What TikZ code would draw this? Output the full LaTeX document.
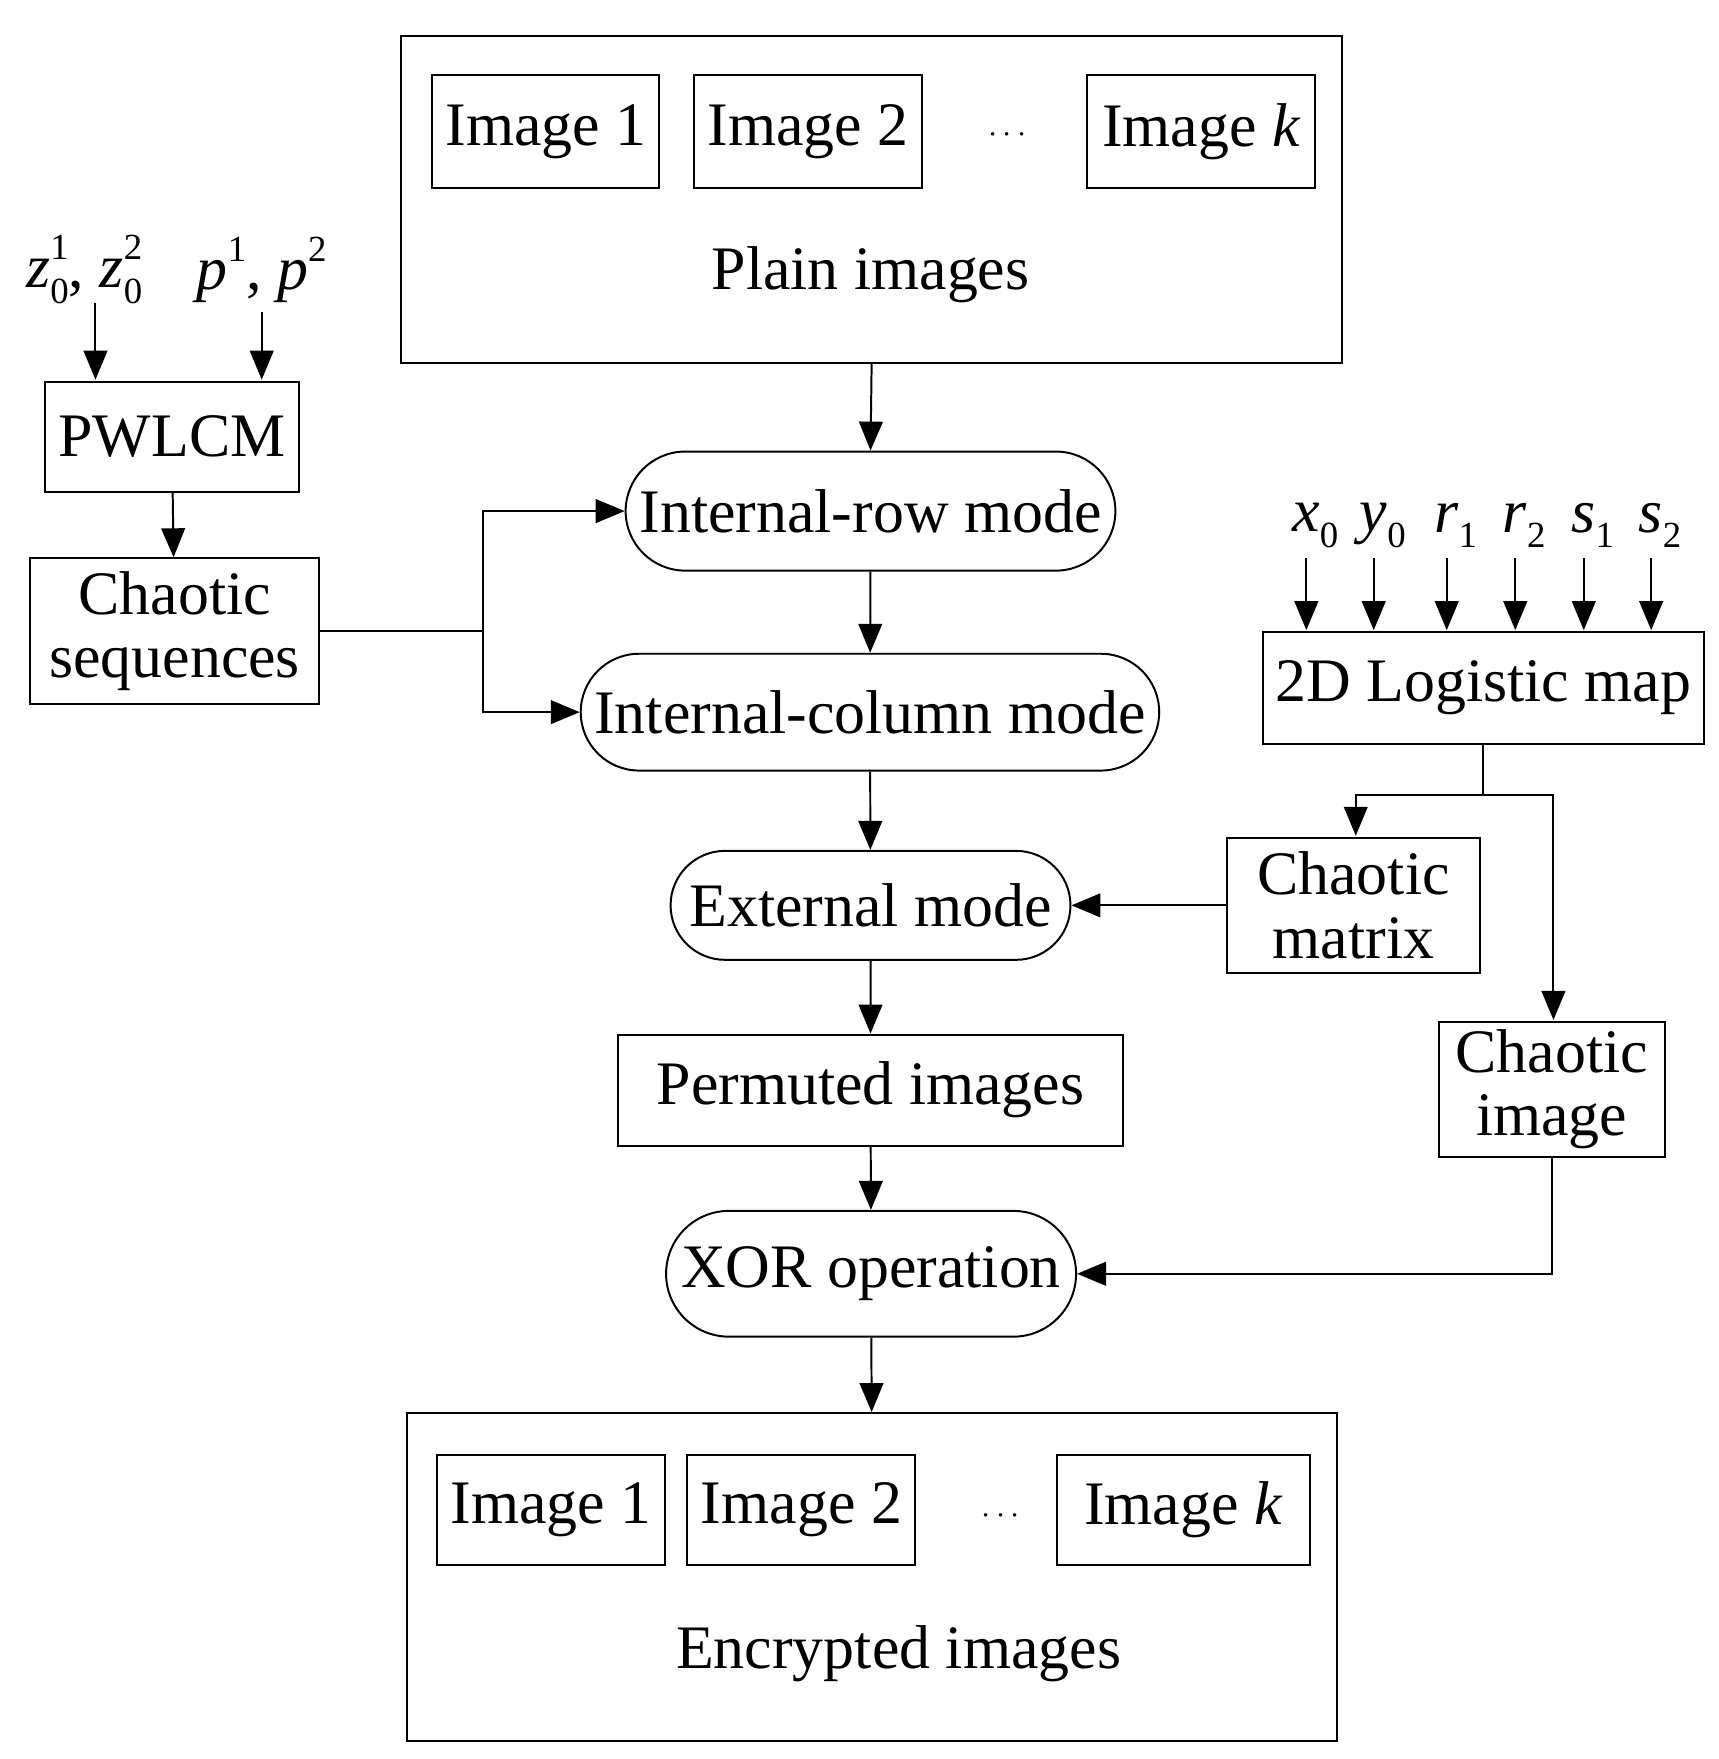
\documentclass[tikz,border=0pt]{standalone}
\usepackage{fontspec}
\setmainfont{Liberation Serif}
\usetikzlibrary{arrows.meta,shapes.misc}
\newcommand{\vsub}[3]{\textit{#1}\makebox[0pt][l]{\raisebox{0.45em}{\fontsize{28}{28}\selectfont #2}}\raisebox{-0.25em}{\fontsize{28}{28}\selectfont #3}}
\newcommand{\vs}[2]{\textit{#1}\raisebox{-0.25em}{\fontsize{28}{28}\selectfont #2}}
\newcommand{\vp}[2]{\textit{#1}\raisebox{0.45em}{\fontsize{28}{28}\selectfont #2}}
\begin{document}
\begin{tikzpicture}[x=0.3mm,y=-0.3mm,
  every node/.style={font=\fontsize{47}{50}\selectfont, inner sep=0pt},
  box/.style={draw, line width=1.5pt},
  rbox/.style={draw, line width=1.5pt, rounded rectangle},
  ln/.style={line width=1.5pt},
  arr/.style={ln, -{Triangle[length=22pt,width=18pt]}}]
\useasboundingbox (0,0) rectangle (1530,1566);
% plain images
\node[box, minimum width=838*0.3mm, minimum height=291*0.3mm] (plain) at (776,177.5) {};
\node[box, minimum width=202*0.3mm, minimum height=100*0.3mm] (p1) at (486,117) {Image 1};
\node[box, minimum width=203*0.3mm, minimum height=100*0.3mm] (p2) at (719.5,117) {Image 2};
\node (pd) at (897,120) {$\cdots$};
\node[box, minimum width=203*0.3mm, minimum height=100*0.3mm] (pk) at (1069.5,117) {Image \textit{k}};
\node (plainlbl) at (775,245) {Plain images};
% left
\node (z) at (75,240) {\vsub{z}{1}{0}, \vsub{z}{2}{0}};
\node (p) at (233,240) {\vp{p}{1}, \vp{p}{2}};
\node[box, minimum width=226*0.3mm, minimum height=98*0.3mm] (pw) at (153,389) {PWLCM};
\node[box, minimum width=257*0.3mm, minimum height=130*0.3mm, align=center] (cs) at (155.5,562) {Chaotic\\[-2pt]sequences};
\coordinate (zs) at (85,270); \coordinate (ps) at (233,278);
\draw[arr] (zs) -- (85,338);
\draw[arr] (ps) -- (233,338);
\draw[arr] (pw) -- (cs);
% center
\node[rbox, minimum width=436*0.3mm, minimum height=106*0.3mm] (ir) at (775,455) {Internal-row mode};
\node[rbox, minimum width=515*0.3mm, minimum height=104*0.3mm] (ic) at (774.5,634) {Internal-column mode};
\node[rbox, minimum width=356*0.3mm, minimum height=97*0.3mm] (ex) at (775,806) {External mode};
\node[box, minimum width=450*0.3mm, minimum height=99*0.3mm] (pm) at (775,970.5) {Permuted images};
\node[rbox, minimum width=365*0.3mm, minimum height=112*0.3mm] (xo) at (775.5,1134) {XOR operation};
% encrypted
\node[box, minimum width=828*0.3mm, minimum height=292*0.3mm] (enc) at (776,1404) {};
\node[box, minimum width=203*0.3mm, minimum height=98*0.3mm] (e1) at (490.5,1344) {Image 1};
\node[box, minimum width=203*0.3mm, minimum height=98*0.3mm] (e2) at (713.5,1344) {Image 2};
\node (ed) at (891,1350) {$\cdots$};
\node[box, minimum width=225*0.3mm, minimum height=98*0.3mm] (ek) at (1053.5,1344) {Image \textit{k}};
\node (enclbl) at (800,1472) {Encrypted images};
\draw[arr] (plain.south) -- (ir.north);
\draw[arr] (ir) -- (ic);
\draw[arr] (ic) -- (ex);
\draw[arr] (ex) -- (pm);
\draw[arr] (pm) -- (xo);
\draw[arr] (xo) -- (enc.north);
\coordinate (br) at (430,562);
\draw[ln] (cs.east) -- (br);
\draw[arr] (br) |- (ir.west);
\draw[arr] (br) |- (ic.west);
% right
\node[box, minimum width=393*0.3mm, minimum height=99*0.3mm] (lg) at (1320.5,612.5) {2D Logistic map};
\foreach \x/\a/\b in {1163/x/0,1223/y/0,1288/r/1,1349/r/2,1410/s/1,1470/s/2}{
  \node (l\x) at (\x+8,468) {\vs{\a}{\b}};
  \coordinate (a\x) at (\x,497);
  \draw[arr] (a\x) -- (\x,561);
}
\node[box, minimum width=226*0.3mm, minimum height=120*0.3mm, align=center] (cm) at (1205,806) {Chaotic\\[-2pt]matrix};
\node[box, minimum width=201*0.3mm, minimum height=120*0.3mm, align=center] (ci) at (1381.5,970) {Chaotic\\[-2pt]image};
\coordinate (sp) at (1320,708);
\draw[ln] (lg.south -| sp) -- (sp);
\draw[arr] (sp) -| (1207,744);
\draw[arr] (sp) -| (1383,908);
\draw[arr] (cm.west) -- (ex.east);
\draw[arr] (ci.south) |- (xo.east);
\end{tikzpicture}
\end{document}
